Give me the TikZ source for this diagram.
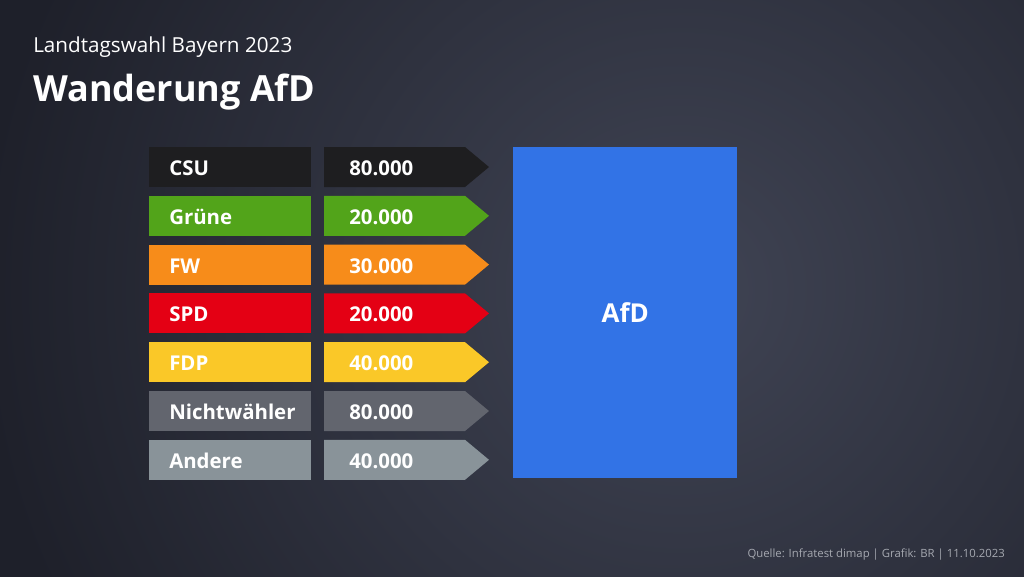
\documentclass[tikz,border=0pt]{standalone}
\usepackage{fontspec}
\setmainfont{Open Sans}
\usetikzlibrary{positioning}

\definecolor{bgin}{RGB}{64,68,84}
\definecolor{bgout}{RGB}{30,32,42}
\definecolor{csucol}{RGB}{30,30,32}
\definecolor{gruencol}{RGB}{82,164,26}
\definecolor{fwcol}{RGB}{247,140,26}
\definecolor{spdcol}{RGB}{228,0,20}
\definecolor{fdpcol}{RGB}{250,200,40}
\definecolor{nwcol}{RGB}{98,101,110}
\definecolor{anderecol}{RGB}{137,147,153}
\definecolor{afdcol}{RGB}{50,115,230}
\definecolor{quellcol}{RGB}{165,168,176}

\begin{document}
\begin{tikzpicture}[x=0.75pt,y=-0.75pt]
\useasboundingbox (0,0) rectangle (1024,576);
\fill[bgout] (-10,-10) rectangle (1034,586);
\begin{scope}
\clip (-10,-10) rectangle (1034,586);
\shade[inner color=bgin, outer color=bgout] (680,290) circle (700);
\end{scope}

% Titel
\node[anchor=base west, inner sep=0pt, text=white, font=\fontsize{15.5}{18}\selectfont] (sub) at (33,52) {Landtagswahl Bayern 2023};
\node[anchor=base west, inner sep=0pt, text=white, font=\fontsize{27}{32}\bfseries] (title) at (33,101) {Wanderung AfD};

% Zeilen
\foreach \party/\votes/\col [count=\i from 0] in {CSU/80.000/csucol, Grüne/20.000/gruencol, FW/30.000/fwcol, SPD/20.000/spdcol, FDP/40.000/fdpcol, Nichtwähler/80.000/nwcol, Andere/40.000/anderecol}{
	\pgfmathsetmacro{\rowtop}{147+48.8*\i}
	\fill[\col](149,\rowtop) rectangle (311,\rowtop+40);
	\fill[\col](324,\rowtop)--(465,\rowtop)--(489,\rowtop+20)--(465,\rowtop+40)--(324,\rowtop+40)--cycle;
	\node[anchor=base west, inner sep=0pt, text=white, font=\fontsize{15.3}{18}\bfseries] (p\i) at (169,\rowtop+28.5) {\party};
	\node[anchor=base west, inner sep=0pt, text=white, font=\fontsize{15.3}{18}\bfseries] (v\i) at (349,\rowtop+28.5) {\votes};
}

% AfD
\node[fill=afdcol, minimum width=168pt, minimum height=248pt, inner sep=0pt, anchor=north west, text=white, font=\fontsize{19.5}{24}\bfseries] (afd) at (513,147) {AfD};

% Quelle
\node[anchor=base east, inner sep=0pt, text=quellcol, font=\fontsize{8.5}{10}\selectfont] (quelle) at (1005,557) {Quelle: Infratest dimap | Grafik: BR | 11.10.2023};
\end{tikzpicture}
\end{document}
